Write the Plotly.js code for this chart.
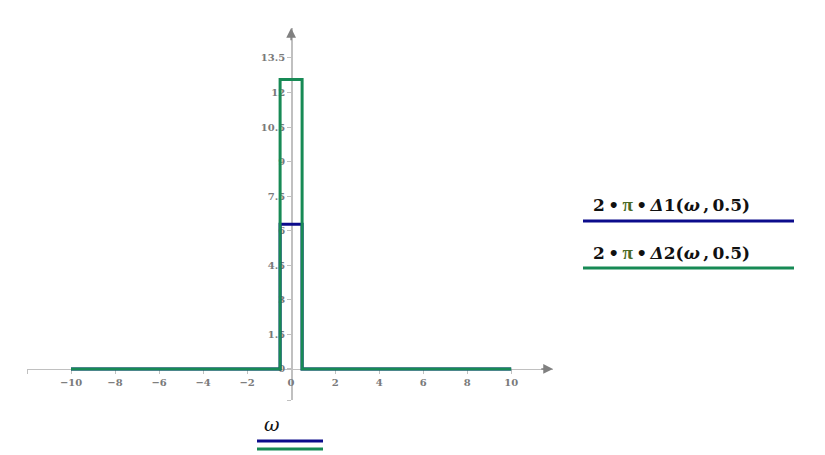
<!DOCTYPE html>
<html>
<head>
<meta charset="utf-8">
<script src="https://cdn.plot.ly/plotly-3.0.1.min.js"></script>
<style>html,body{margin:0;padding:0;background:#fff;}#chart{width:825px;height:455px;}</style>
</head>
<body>
<div id="chart"></div>
<script>
// ---- data ----
var omega = [-10, -0.5, -0.5, 0.5, 0.5, 10];
var delta1 = [0, 0, 6.283, 6.283, 0, 0];     // 2·π·Δ1(ω,0.5)
var delta2 = [0, 0, 12.566, 12.566, 0, 0];   // 2·π·Δ2(ω,0.5)
var xTickVals = [-12, -10, -8, -6, -4, -2, 0, 2, 4, 6, 8, 10];
var xTickText = ['', '\u221210', '\u22128', '\u22126', '\u22124', '\u22122', '0', '2', '4', '6', '8', '10'];
var yTickVals = [-1.35, 0, 1.5, 3, 4.5, 6, 7.5, 9, 10.5, 12, 13.5];
var yTickText = ['', '0', '1.5', '3', '4.5', '6', '7.5', '9', '10.5', '12', '13.5'];
var PI = '<span style="color:#4b6b26;font-family:\'Liberation Serif\',serif;font-size:19px">\u03c0</span>';
var name1 = '2\u2009\u2022\u2009' + PI + '\u2009\u2022\u2009<i>\u0394</i>1(<i>\u03c9</i>\u2009,\u20090.5)';
var name2 = '2\u2009\u2022\u2009' + PI + '\u2009\u2022\u2009<i>\u0394</i>2(<i>\u03c9</i>\u2009,\u20090.5)';
var xName = '<i>\u03c9</i>';

var BLUE = '#0c0c8c', GREEN = '#178a55', AXIS = '#c0c0c0', TICKFONT = '#7a7a7a';
var xRange = [-12, 11.9], yRange = [-1.35, 14.8];

var W = 825, H = 455, L = 27, R = 272, T = 28, B = 55;
var pw = W - L - R, ph = H - T - B;
function px(x) { return (x - L) / pw; }
function py(y) { return (H - B - y) / ph; }

var xPos = (0 - yRange[0]) / (yRange[1] - yRange[0]);
var yPos = (0 - xRange[0]) / (xRange[1] - xRange[0]);

var tickFont = {family: 'DejaVu Serif, serif', size: 10, color: TICKFONT, weight: 'bold'};
var legFont = {family: 'DejaVu Serif, serif', size: 17, color: '#111'};

var traces = [
  {x: omega, y: delta1, mode: 'lines', line: {color: BLUE, width: 3}, showlegend: false, hoverinfo: 'skip'},
  {x: omega, y: delta2, mode: 'lines', line: {color: GREEN, width: 3}, showlegend: false, hoverinfo: 'skip'}
];

var layout = {
  width: W, height: H,
  margin: {l: L, r: R, t: T, b: B},
  paper_bgcolor: '#fff', plot_bgcolor: '#fff',
  showlegend: false,
  xaxis: {
    range: xRange, anchor: 'free', position: xPos, showgrid: false, zeroline: false,
    showline: true, linecolor: AXIS, linewidth: 1.5,
    tickmode: 'array', tickvals: xTickVals, ticktext: xTickText,
    ticks: 'outside', ticklen: 4, tickcolor: AXIS, tickwidth: 1,
    tickfont: tickFont, layer: 'below traces'
  },
  xaxis2: {
    range: xRange, overlaying: 'x', anchor: 'free', position: xPos, showgrid: false, zeroline: false,
    showline: false, tickmode: 'array', tickvals: xTickVals, showticklabels: false,
    ticks: 'inside', ticklen: 4, tickcolor: AXIS, tickwidth: 1, layer: 'below traces'
  },
  yaxis: {
    range: yRange, anchor: 'free', position: yPos, showgrid: false, zeroline: false,
    showline: true, linecolor: AXIS, linewidth: 1.5,
    tickmode: 'array', tickvals: yTickVals, ticktext: yTickText,
    ticks: 'outside', ticklen: 4, tickcolor: AXIS, tickwidth: 1,
    tickfont: tickFont, layer: 'below traces'
  },
  yaxis2: {
    range: yRange, overlaying: 'y', anchor: 'free', position: yPos, showgrid: false, zeroline: false,
    showline: false, tickmode: 'array', tickvals: yTickVals, showticklabels: false,
    ticks: 'inside', ticklen: 4, tickcolor: AXIS, tickwidth: 1, layer: 'below traces'
  },
  annotations: [
    {x: xRange[1], y: 0, ax: xRange[1] - 0.6, ay: 0, xref: 'x', yref: 'y', axref: 'x', ayref: 'y',
     showarrow: true, arrowhead: 2, arrowsize: 1.3, arrowwidth: 1.5, arrowcolor: '#808080', text: ''},
    {x: 0, y: yRange[1], ax: 0, ay: yRange[1] - 0.6, xref: 'x', yref: 'y', axref: 'x', ayref: 'y',
     showarrow: true, arrowhead: 2, arrowsize: 1.3, arrowwidth: 1.5, arrowcolor: '#808080', text: ''},
    {x: px(591), y: py(204), xref: 'paper', yref: 'paper', xanchor: 'left', yanchor: 'middle',
     showarrow: false, text: '<b>' + name1 + '</b>', font: legFont},
    {x: px(591), y: py(252), xref: 'paper', yref: 'paper', xanchor: 'left', yanchor: 'middle',
     showarrow: false, text: '<b>' + name2 + '</b>', font: legFont},
    {x: px(272), y: py(424), xref: 'paper', yref: 'paper', xanchor: 'center', yanchor: 'middle',
     showarrow: false, text: xName, font: {family: 'DejaVu Serif, serif', size: 19, color: '#111'}}
  ],
  shapes: [
    {type: 'line', xref: 'paper', yref: 'paper', x0: px(583), x1: px(794), y0: py(221), y1: py(221), line: {color: BLUE, width: 3}},
    {type: 'line', xref: 'paper', yref: 'paper', x0: px(583), x1: px(794), y0: py(268), y1: py(268), line: {color: GREEN, width: 3}},
    {type: 'line', xref: 'paper', yref: 'paper', x0: px(257), x1: px(323), y0: py(441), y1: py(441), line: {color: BLUE, width: 3}},
    {type: 'line', xref: 'paper', yref: 'paper', x0: px(257), x1: px(323), y0: py(449), y1: py(449), line: {color: GREEN, width: 3}}
  ]
};

Plotly.newPlot('chart', traces, layout, {displayModeBar: false, staticPlot: true});
</script>
</body>
</html>
